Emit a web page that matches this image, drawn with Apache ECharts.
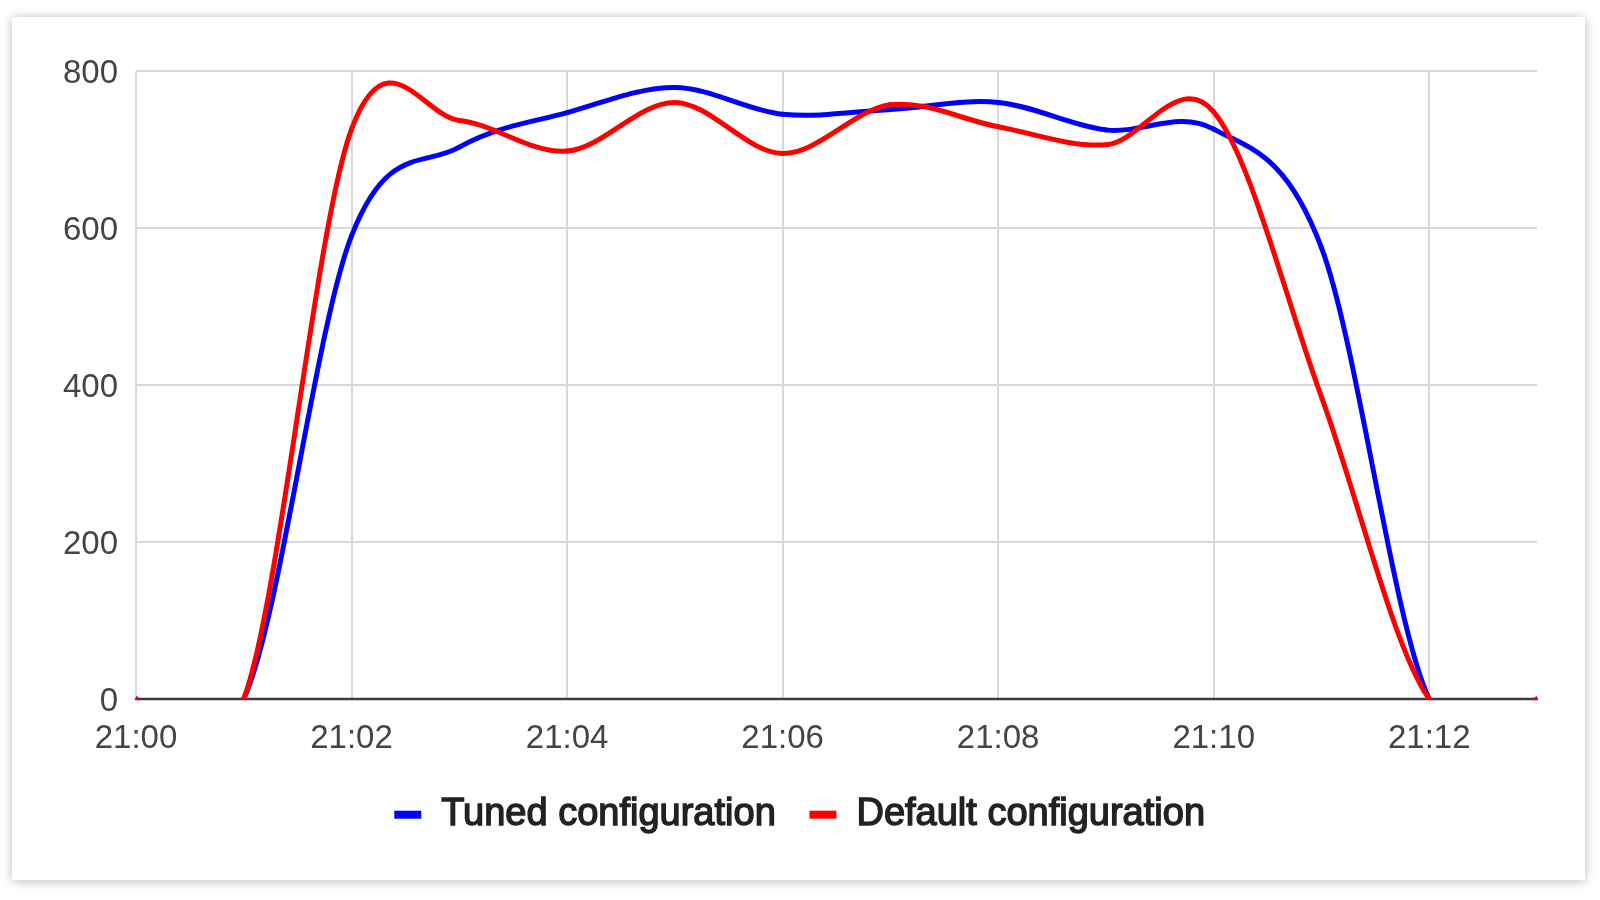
<!DOCTYPE html>
<html>
<head>
<meta charset="utf-8">
<script src="https://cdn.jsdelivr.net/npm/echarts@6/dist/echarts.min.js"></script>
<style>
html,body{margin:0;padding:0;background:#ffffff;}
#chart{width:1600px;height:900px;}
</style>
</head>
<body>
<div id="chart"></div>
<script>
// ---- data ----
const times = ['21:00','21:01','21:02','21:03','21:04','21:05','21:06','21:07','21:08','21:09','21:10','21:11','21:12','21:13'];
const tuned = [0, 0, 590, 703, 747, 779, 745, 751, 760, 725, 726, 575, 0, 0];
const defaultCfg = [0, 0, 726, 737, 698, 760, 695, 757, 729, 706, 748, 385, 0, 0];
const seriesNames = ['Tuned configuration', 'Default configuration'];
const seriesColors = ['#0000ff', '#ff0000'];
const xTickLabels = ['21:00','21:02','21:04','21:06','21:08','21:10','21:12'];
const yTickLabels = ['0','200','400','600','800'];

// minutes after 21:00 for each time label
const minutes = times.map(t => { const p = t.split(':'); return (parseInt(p[0],10) - 21) * 60 + parseInt(p[1],10); });

function makeSeries(name, values, color) {
  const data = values.map((v, i) => [minutes[i], v]);
  return {
    name: name,
    type: 'custom',
    clip: true,
    itemStyle: { color: color },
    data: data,
    encode: { x: 0, y: 1 },
    renderItem: function (params, api) {
      const i = params.dataIndex;
      const n = data.length;
      if (i >= n - 1) return null;
      const c = k => api.coord(data[k]);
      const p1 = c(i), p2 = c(i + 1);
      const p0 = i > 0 ? c(i - 1) : null;
      const p3 = i + 2 < n ? c(i + 2) : null;
      // Catmull-Rom style control points (like a "function" curve)
      const cp1 = p0 ? [p1[0] + (p2[0] - p0[0]) / 6, p1[1] + (p2[1] - p0[1]) / 6] : p1;
      const cp2 = p3 ? [p2[0] - (p3[0] - p1[0]) / 6, p2[1] - (p3[1] - p1[1]) / 6] : p2;
      return {
        type: 'bezierCurve',
        shape: { x1: p1[0], y1: p1[1], x2: p2[0], y2: p2[1], cpx1: cp1[0], cpy1: cp1[1], cpx2: cp2[0], cpy2: cp2[1] },
        style: { stroke: color, lineWidth: 5, fill: null, lineCap: 'round' }
      };
    }
  };
}

const chart = echarts.init(document.getElementById('chart'), null, { renderer: 'canvas' });
const font = "'Liberation Sans', Arial, sans-serif";
chart.setOption({
  animation: false,
  backgroundColor: '#ffffff',
  graphic: [{
    type: 'rect', z: -10, silent: true,
    shape: { x: 12, y: 17, width: 1573, height: 863 },
    style: { fill: '#ffffff', shadowBlur: 10, shadowColor: 'rgba(0,0,0,0.28)', shadowOffsetX: 0, shadowOffsetY: 1 }
  }],
  grid: { left: 136, right: 63, top: 71, bottom: 201, containLabel: false },
  legend: {
    data: seriesNames,
    left: 'center',
    top: 790,
    icon: 'rect',
    itemWidth: 27,
    itemHeight: 8,
    itemGap: 33,
    textStyle: {
      fontFamily: font, fontSize: 38, color: '#222222',
      textBorderColor: '#222222', textBorderWidth: 1.4,
      padding: [0, 0, 0, 15]
    }
  },
  xAxis: {
    type: 'value',
    min: 0, max: 13, interval: 2,
    axisLine: { show: true, onZero: false, lineStyle: { color: '#3c3c3c', width: 2.4 } },
    axisTick: { show: false },
    axisLabel: {
      margin: 23, fontFamily: font, fontSize: 33, color: '#444444',
      showMaxLabel: false,
      formatter: v => (v % 2 === 0 && v / 2 < xTickLabels.length) ? xTickLabels[v / 2] : ''
    },
    splitLine: { show: true, showMinLine: true, showMaxLine: false, lineStyle: { color: '#d8d8d8', width: 2 } }
  },
  yAxis: {
    type: 'value',
    min: 0, max: 800, interval: 200,
    axisLine: { show: false },
    axisTick: { show: false },
    axisLabel: {
      margin: 18, fontFamily: font, fontSize: 33, color: '#444444',
      formatter: v => '{t|' + yTickLabels[v / 200] + '}',
      rich: { t: { fontFamily: font, fontSize: 33, color: '#444444', padding: [5, 0, 0, 0] } }
    },
    splitLine: { show: true, lineStyle: { color: '#d8d8d8', width: 2 } }
  },
  series: [
    makeSeries(seriesNames[0], tuned, seriesColors[0]),
    makeSeries(seriesNames[1], defaultCfg, seriesColors[1])
  ]
});
</script>
</body>
</html>
